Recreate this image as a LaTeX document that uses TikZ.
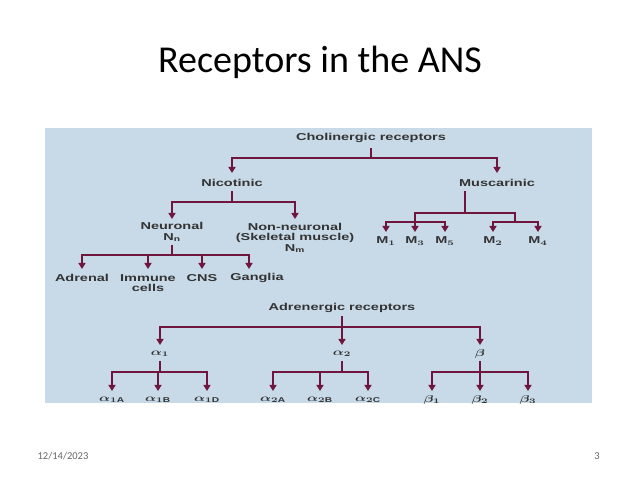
\documentclass[tikz,border=0pt]{standalone}
\usepackage{fontspec}
\setmainfont{Liberation Sans}
\newfontfamily\titlefont{Carlito}
\usetikzlibrary{arrows.meta}
\definecolor{panel}{RGB}{200,218,232}
\definecolor{maroon}{RGB}{112,22,62}
\tikzset{
 lbl/.style={font=\fontsize{10}{10.5}\selectfont\bfseries\boldmath, inner sep=0pt, align=center, text=black!80, xscale=1.45, transform shape},
 ln/.style={draw=maroon, line width=1.4pt},
 arr/.style={ln, -{Triangle[length=6pt,width=7pt]}},
}
\begin{document}
\begin{tikzpicture}[x=1pt,y=-1pt]
\useasboundingbox (0,0) rectangle (638,478);
\fill[white] (0,0) rectangle (638,478);
\fill[panel] (45,128) rectangle (592,403);
\node[font=\titlefont\fontsize{38}{40}\selectfont] (title) at (320,62) {Receptors in the ANS};
\node[font=\titlefont\fontsize{10.5}{11}\selectfont, text=black!60] (date) at (63,456) {12/14/2023};
\node[font=\titlefont\fontsize{10.5}{11}\selectfont, text=black!60] (page) at (597,456) {3};

% cholinergic
\node[lbl] (chol) at (371,138) {Cholinergic receptors};
\node[lbl] (nic) at (232,183) {Nicotinic};
\node[lbl] (mus) at (497,183) {Muscarinic};
\node[lbl] (neu) at (172,232) {Neuronal\\N$_\mathrm{n}$};
\node[lbl] (nonneu) at (295,238) {Non-neuronal\\(Skeletal muscle)\\N$_\mathrm{m}$};
\node[lbl] (m1) at (386,241) {M$_1$};
\node[lbl] (m3) at (415,241) {M$_3$};
\node[lbl] (m5) at (445,241) {M$_5$};
\node[lbl] (m2) at (493,241) {M$_2$};
\node[lbl] (m4) at (538,241) {M$_4$};
\node[lbl] (adr) at (82,278) {Adrenal};
\node[lbl] (imm) at (148,283) {Immune\\cells};
\node[lbl] (cns) at (202,278) {CNS};
\node[lbl] (gan) at (257,278) {Ganglia};

\coordinate (jc) at (371,158);
\draw[ln] (371,148) -- (jc);
\draw[arr] (jc) -| (232,173);
\draw[arr] (jc) -| (497,173);
\coordinate (jn) at (232,202);
\draw[ln] (232,191) -- (jn);
\draw[arr] (jn) -| (172,219);
\draw[arr] (jn) -| (295,219);
\coordinate (jm) at (465,213);
\draw[ln] (465,191) -- (jm);
\draw[ln] (415,222) |- (515,213) -- (515,222);
\draw[arr] (415,222) -| (386,232);
\draw[arr] (415,222) -- (415,232);
\draw[arr] (415,222) -| (445,232);
\draw[arr] (515,222) -| (493,232);
\draw[arr] (515,222) -| (538,232);
\coordinate (jnn) at (172,255);
\draw[ln] (172,245) -- (jnn);
\draw[arr] (jnn) -| (82,269);
\draw[arr] (jnn) -| (148,269);
\draw[arr] (jnn) -| (202,269);
\draw[arr] (jnn) -| (249,269);

% adrenergic
\node[lbl] (adre) at (342,308) {Adrenergic receptors};
\node[lbl] (a1) at (160,354) {$\alpha_1$};
\node[lbl] (a2) at (342,354) {$\alpha_2$};
\node[lbl] (b) at (480,354) {$\beta$};
\coordinate (ja) at (342,327);
\draw[ln] (342,316) -- (ja);
\draw[arr] (ja) -| (160,345);
\draw[arr] (ja) -- (342,345);
\draw[arr] (ja) -| (480,345);
\foreach \p/\a/\bb/\c/\na/\nb/\nc in {160/112/158/207/{\alpha_{1\mathrm{A}}}/{\alpha_{1\mathrm{B}}}/{\alpha_{1\mathrm{D}}}, 342/273/320/368/{\alpha_{2\mathrm{A}}}/{\alpha_{2\mathrm{B}}}/{\alpha_{2\mathrm{C}}}, 480/432/480/528/{\beta_1}/{\beta_2}/{\beta_3}}{
 \draw[ln] (\p,361) -- (\p,372);
 \draw[arr] (\p,372) -| (\a,391);
 \draw[arr] (\p,372) -| (\bb,391);
 \draw[arr] (\p,372) -| (\c,391);
 \node[lbl] at (\a,400) {$\na$};
 \node[lbl] at (\bb,400) {$\nb$};
 \node[lbl] at (\c,400) {$\nc$};
}
\end{tikzpicture}
\end{document}
